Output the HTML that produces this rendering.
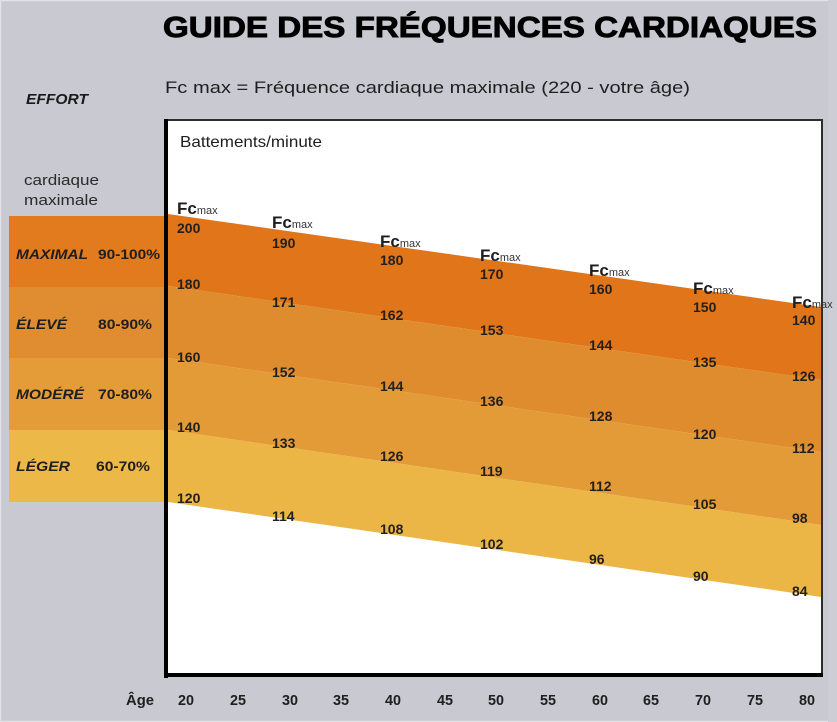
<!DOCTYPE html>
<html><head><meta charset="utf-8"><style>
html,body{margin:0;padding:0;background:#c8c9d1;}
svg{display:block;}
text{font-family:"Liberation Sans",Arial,sans-serif;}
</style></head><body>
<svg width="837" height="722" viewBox="0 0 837 722" xmlns="http://www.w3.org/2000/svg">
<rect x="0" y="0" width="837" height="722" fill="#c8c9d1"/>
<rect x="0.5" y="0.5" width="836" height="721" fill="none" stroke="#e2e3e8" stroke-width="1.5"/>
<rect x="828" y="0" width="9" height="722" fill="#cdced5"/>

<!-- Title -->
<text x="163" y="37" font-size="29" font-weight="bold" fill="#000" stroke="#000" stroke-width="0.9" textLength="654" lengthAdjust="spacingAndGlyphs">GUIDE DES FRÉQUENCES CARDIAQUES</text>
<text x="165" y="93" font-size="17" fill="#1e1e1e" textLength="525" lengthAdjust="spacingAndGlyphs">Fc max = Fréquence cardiaque maximale (220 - votre âge)</text>

<text x="26" y="104" font-size="14.5" font-weight="bold" font-style="italic" fill="#1a1a1a" textLength="62" lengthAdjust="spacingAndGlyphs">EFFORT</text>
<text x="24" y="185" font-size="15" fill="#2a2a2a" textLength="75" lengthAdjust="spacingAndGlyphs">cardiaque</text>
<text x="24" y="205" font-size="15" fill="#2a2a2a" textLength="74" lengthAdjust="spacingAndGlyphs">maximale</text>

<!-- Left blocks -->
<rect x="9" y="216" width="157" height="71" fill="#e27a1e"/>
<rect x="9" y="287" width="157" height="71" fill="#df8d30"/>
<rect x="9" y="358" width="157" height="72" fill="#e39c38"/>
<rect x="9" y="430" width="157" height="72" fill="#ecb848"/>
<g font-size="14" font-weight="bold" fill="#1e1e1e">
<text x="16" y="259" font-style="italic" textLength="72" lengthAdjust="spacingAndGlyphs">MAXIMAL</text>
<text x="98" y="259" textLength="62" lengthAdjust="spacingAndGlyphs">90-100%</text>
<text x="16" y="329" font-style="italic" textLength="51" lengthAdjust="spacingAndGlyphs">ÉLEVÉ</text>
<text x="98" y="329" textLength="54" lengthAdjust="spacingAndGlyphs">80-90%</text>
<text x="16" y="399" font-style="italic" textLength="68" lengthAdjust="spacingAndGlyphs">MODÉRÉ</text>
<text x="98" y="399" textLength="54" lengthAdjust="spacingAndGlyphs">70-80%</text>
<text x="16" y="471" font-style="italic" textLength="54" lengthAdjust="spacingAndGlyphs">LÉGER</text>
<text x="96" y="471" textLength="54" lengthAdjust="spacingAndGlyphs">60-70%</text>
</g>

<!-- Chart frame -->
<rect x="166" y="120" width="656" height="556" fill="#ffffff"/>

<!-- Bands -->
<polygon points="168,214 821,307 821,380 168,286" fill="#e07619"/>
<polygon points="168,286 821,380 821,452 168,358" fill="#df8c2e"/>
<polygon points="168,358 821,452 821,525 168,430" fill="#e39b37"/>
<polygon points="168,430 821,525 821,597 168,502" fill="#ebb646"/>

<!-- Frame borders -->
<line x1="166" y1="120" x2="823" y2="120" stroke="#2e2e2e" stroke-width="2"/>
<line x1="822" y1="119" x2="822" y2="677" stroke="#2e2e2e" stroke-width="2"/>
<line x1="166" y1="119" x2="166" y2="678" stroke="#000" stroke-width="4"/>
<line x1="164" y1="675" x2="823" y2="675" stroke="#000" stroke-width="4"/>

<text x="180" y="147" font-size="16" fill="#1e1e1e" textLength="142" lengthAdjust="spacingAndGlyphs">Battements/minute</text>

<!-- Fcmax labels -->
<g fill="#1e1e1e">
<text x="177" y="214"><tspan font-size="17" font-weight="bold">Fc</tspan><tspan font-size="11" fill="#333">max</tspan></text>
<text x="272" y="228"><tspan font-size="17" font-weight="bold">Fc</tspan><tspan font-size="11" fill="#333">max</tspan></text>
<text x="380" y="247"><tspan font-size="17" font-weight="bold">Fc</tspan><tspan font-size="11" fill="#333">max</tspan></text>
<text x="480" y="261"><tspan font-size="17" font-weight="bold">Fc</tspan><tspan font-size="11" fill="#333">max</tspan></text>
<text x="589" y="276"><tspan font-size="17" font-weight="bold">Fc</tspan><tspan font-size="11" fill="#333">max</tspan></text>
<text x="693" y="294"><tspan font-size="17" font-weight="bold">Fc</tspan><tspan font-size="11" fill="#333">max</tspan></text>
<text x="792" y="308"><tspan font-size="17" font-weight="bold">Fc</tspan><tspan font-size="11" fill="#333">max</tspan></text>
</g>

<!-- Values -->
<g font-size="14" font-weight="bold" fill="#231f1c">
<text x="177" y="233">200</text>
<text x="177" y="289">180</text>
<text x="177" y="362">160</text>
<text x="177" y="432">140</text>
<text x="177" y="503">120</text>

<text x="272" y="248">190</text>
<text x="272" y="307">171</text>
<text x="272" y="377">152</text>
<text x="272" y="448">133</text>
<text x="272" y="521">114</text>

<text x="380" y="265">180</text>
<text x="380" y="320">162</text>
<text x="380" y="391">144</text>
<text x="380" y="461">126</text>
<text x="380" y="534">108</text>

<text x="480" y="279">170</text>
<text x="480" y="335">153</text>
<text x="480" y="406">136</text>
<text x="480" y="476">119</text>
<text x="480" y="549">102</text>

<text x="589" y="294">160</text>
<text x="589" y="350">144</text>
<text x="589" y="421">128</text>
<text x="589" y="491">112</text>
<text x="589" y="564">96</text>

<text x="693" y="312">150</text>
<text x="693" y="367">135</text>
<text x="693" y="439">120</text>
<text x="693" y="509">105</text>
<text x="693" y="581">90</text>

<text x="792" y="325">140</text>
<text x="792" y="381">126</text>
<text x="792" y="453">112</text>
<text x="792" y="523">98</text>
<text x="792" y="596">84</text>
</g>

<!-- Age axis -->
<g font-size="15" font-weight="bold" fill="#1e1e1e" text-anchor="middle">
<text x="140" y="705" textLength="28" lengthAdjust="spacingAndGlyphs">Âge</text>
<text x="186" y="705" textLength="16" lengthAdjust="spacingAndGlyphs">20</text>
<text x="238" y="705" textLength="16" lengthAdjust="spacingAndGlyphs">25</text>
<text x="290" y="705" textLength="16" lengthAdjust="spacingAndGlyphs">30</text>
<text x="341" y="705" textLength="16" lengthAdjust="spacingAndGlyphs">35</text>
<text x="393" y="705" textLength="16" lengthAdjust="spacingAndGlyphs">40</text>
<text x="445" y="705" textLength="16" lengthAdjust="spacingAndGlyphs">45</text>
<text x="496" y="705" textLength="16" lengthAdjust="spacingAndGlyphs">50</text>
<text x="548" y="705" textLength="16" lengthAdjust="spacingAndGlyphs">55</text>
<text x="600" y="705" textLength="16" lengthAdjust="spacingAndGlyphs">60</text>
<text x="651" y="705" textLength="16" lengthAdjust="spacingAndGlyphs">65</text>
<text x="703" y="705" textLength="16" lengthAdjust="spacingAndGlyphs">70</text>
<text x="755" y="705" textLength="16" lengthAdjust="spacingAndGlyphs">75</text>
<text x="807" y="705" textLength="16" lengthAdjust="spacingAndGlyphs">80</text>
</g>
</svg>
</body></html>
